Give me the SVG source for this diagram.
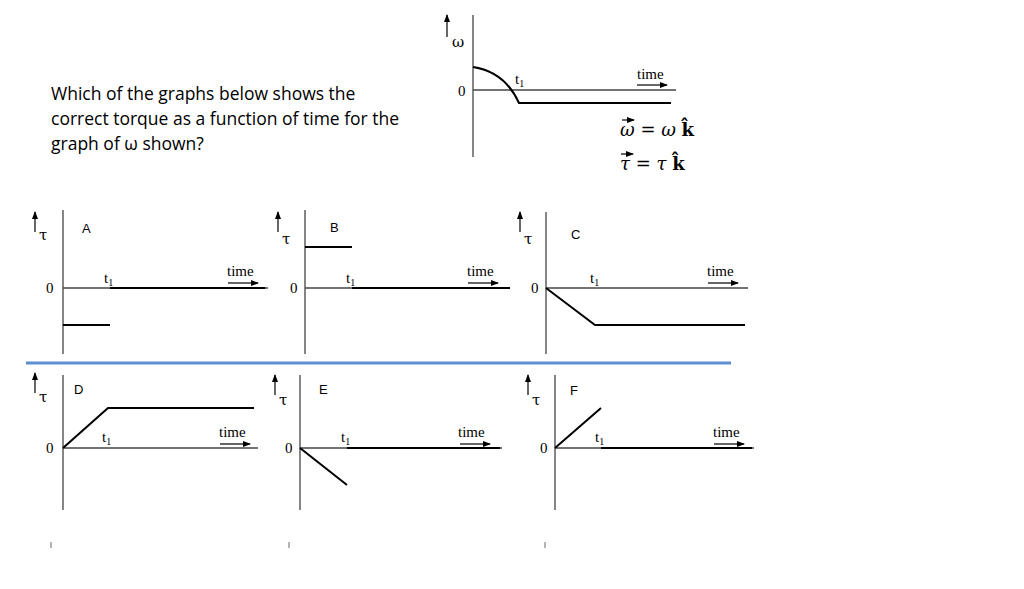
<svg xmlns="http://www.w3.org/2000/svg" width="1024" height="589" viewBox="0 0 1024 589">
<defs>
<marker id="ah" markerWidth="8" markerHeight="6" refX="7" refY="3" orient="auto" markerUnits="userSpaceOnUse"><path d="M0,0 L8,3 L0,6 Z" fill="#000"/></marker>
</defs>
<style>
.ax{stroke:#444;stroke-width:1.3;fill:none}
.cv{stroke:#000;stroke-width:2;fill:none}
.ar{stroke:#000;stroke-width:1.2;marker-end:url(#ah)}
.sr{font-family:"Liberation Serif",serif;font-size:15px;fill:#000}
.gk{font-family:"DejaVu Serif",serif;font-size:15px;fill:#000}
.eq{font-family:"DejaVu Serif",serif;font-size:18px;fill:#000}
.ss{font-family:"Liberation Sans",sans-serif;font-size:13px;fill:#000}
.q{font-family:"Open Sans","Liberation Sans",sans-serif;font-size:17.5px;fill:#000}
</style>
<rect width="1024" height="589" fill="#fff"/>
<g id="question">
<text class="q" x="51" y="100">Which of the graphs below shows the</text>
<text class="q" x="51" y="125">correct torque as a function of time for the</text>
<text class="q" x="51" y="150">graph of ω shown?</text>
</g>
<g id="omega-graph">
<line class="ax" x1="473" y1="15" x2="473" y2="157"/>
<line class="ax" x1="473" y1="90" x2="676" y2="90"/>
<line class="ar" x1="447" y1="37" x2="447" y2="15"/>
<text class="gk" x="452" y="47">ω</text>
<text class="sr" x="458" y="96">0</text>
<path class="cv" d="M473,67 Q505,72 519,103 L671,103"/>
<text class="sr" x="515" y="84">t<tspan font-size="10" dy="3">1</tspan></text>
<text class="sr" x="637" y="79">time</text>
<line class="ar" x1="637" y1="85" x2="667" y2="85"/>
<text class="eq" x="620" y="136" font-style="italic">ω = ω <tspan font-weight="bold" font-style="normal">k̂</tspan></text>
<line class="ar" x1="622" y1="120" x2="634" y2="120" stroke-width="1"/>
<text class="eq" x="620" y="170" font-style="italic">τ = τ <tspan font-weight="bold" font-style="normal">k̂</tspan></text>
<line class="ar" x1="621" y1="154" x2="633" y2="154" stroke-width="1"/>
</g>
<g id="graph-A">
<line class="ax" x1="63" y1="210" x2="63" y2="354"/>
<line class="ax" x1="63" y1="288" x2="268" y2="288"/>
<line class="ar" x1="35" y1="232" x2="35" y2="212"/>
<text class="gk" x="39" y="240">τ</text>
<text class="sr" x="46" y="293">0</text>
<text class="ss" x="82" y="233">A</text>
<path class="cv" d="M110,288 L265,288 M63,325 L110,325"/>
<text class="sr" x="104" y="283">t<tspan font-size="10" dy="3">1</tspan></text>
<text class="sr" x="227" y="276">time</text>
<line class="ar" x1="228" y1="283" x2="258" y2="283"/>
</g>
<g id="graph-B">
<line class="ax" x1="305" y1="210" x2="305" y2="354"/>
<line class="ax" x1="305" y1="288" x2="510" y2="288"/>
<line class="ar" x1="278" y1="232" x2="278" y2="212"/>
<text class="gk" x="282" y="244">τ</text>
<text class="sr" x="290" y="293">0</text>
<text class="ss" x="330" y="232">B</text>
<path class="cv" d="M305,247 L352,247 M352,288 L510,288"/>
<text class="sr" x="346" y="283">t<tspan font-size="10" dy="3">1</tspan></text>
<text class="sr" x="467" y="276">time</text>
<line class="ar" x1="468" y1="283" x2="498" y2="283"/>
</g>
<g id="graph-C">
<line class="ax" x1="546" y1="212" x2="546" y2="354"/>
<line class="ax" x1="546" y1="288" x2="748" y2="288"/>
<line class="ar" x1="520" y1="232" x2="520" y2="212"/>
<text class="gk" x="524" y="244">τ</text>
<text class="sr" x="531" y="293">0</text>
<text class="ss" x="571" y="239">C</text>
<path class="cv" d="M546,288 L595,325 L745,325"/>
<text class="sr" x="590" y="283">t<tspan font-size="10" dy="3">1</tspan></text>
<text class="sr" x="707" y="276">time</text>
<line class="ar" x1="708" y1="283" x2="738" y2="283"/>
</g>
<line x1="26" y1="363" x2="731" y2="363" stroke="#5b8fd0" stroke-width="3"/>
<g id="graph-D">
<line class="ax" x1="63" y1="375" x2="63" y2="510"/>
<line class="ax" x1="63" y1="448" x2="258" y2="448"/>
<line class="ar" x1="35" y1="393" x2="35" y2="373"/>
<text class="gk" x="39" y="402">τ</text>
<text class="sr" x="46" y="453">0</text>
<text class="ss" x="74" y="394">D</text>
<path class="cv" d="M63,448 L108,408 L254,408"/>
<text class="sr" x="102" y="442">t<tspan font-size="10" dy="3">1</tspan></text>
<text class="sr" x="219" y="437">time</text>
<line class="ar" x1="220" y1="444" x2="250" y2="444"/>
</g>
<g id="graph-E">
<line class="ax" x1="300" y1="375" x2="300" y2="510"/>
<line class="ax" x1="300" y1="448" x2="502" y2="448"/>
<line class="ar" x1="275" y1="395" x2="275" y2="375"/>
<text class="gk" x="279" y="405">τ</text>
<text class="sr" x="285" y="453">0</text>
<text class="ss" x="319" y="394">E</text>
<path class="cv" d="M300,448 L347,485 M347,448 L500,448"/>
<text class="sr" x="341" y="442">t<tspan font-size="10" dy="3">1</tspan></text>
<text class="sr" x="458" y="437">time</text>
<line class="ar" x1="460" y1="444" x2="490" y2="444"/>
</g>
<g id="graph-F">
<line class="ax" x1="555" y1="375" x2="555" y2="510"/>
<line class="ax" x1="555" y1="448" x2="754" y2="448"/>
<line class="ar" x1="528" y1="395" x2="528" y2="375"/>
<text class="gk" x="532" y="405">τ</text>
<text class="sr" x="540" y="453">0</text>
<text class="ss" x="570" y="395">F</text>
<path class="cv" d="M555,448 L601,408 M601,448 L752,448"/>
<text class="sr" x="595" y="442">t<tspan font-size="10" dy="3">1</tspan></text>
<text class="sr" x="713" y="437">time</text>
<line class="ar" x1="714" y1="444" x2="744" y2="444"/>
</g>
<g stroke="#666" stroke-width="1">
<line x1="51" y1="542" x2="51" y2="548"/>
<line x1="289" y1="542" x2="289" y2="548"/>
<line x1="545" y1="542" x2="545" y2="548"/>
</g>
</svg>
